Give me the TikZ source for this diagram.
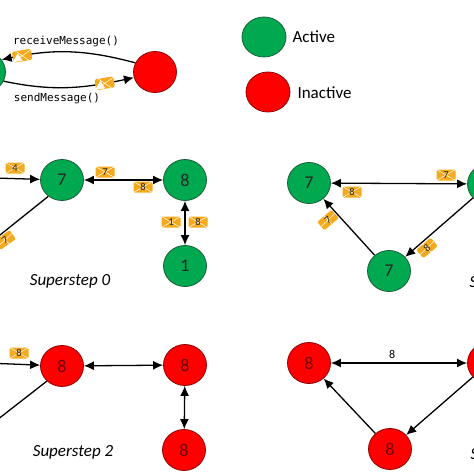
\documentclass[tikz,border=0pt]{standalone}
\usepackage{fontspec}
\setmainfont{Carlito}
\setmonofont{DejaVu Sans Mono}
\usetikzlibrary{arrows.meta,shapes.geometric}

\definecolor{activegreen}{RGB}{0,168,80}
\definecolor{activeedge}{RGB}{25,95,55}
\definecolor{inactivered}{RGB}{255,0,0}
\definecolor{inactiveedge}{RGB}{140,0,0}
\definecolor{msgorange}{RGB}{245,170,30}

\begin{document}
\begin{tikzpicture}[x=1pt,y=1pt,
  active/.style={ellipse,draw=activeedge,fill=activegreen,line width=0.8pt,minimum width=43pt,minimum height=41pt,inner sep=0pt,text=black!85,font=\fontsize{18}{18}\selectfont},
  inactive/.style={ellipse,draw=inactiveedge,fill=inactivered,line width=0.8pt,minimum width=43pt,minimum height=41pt,inner sep=0pt,text=inactiveedge!80!black,font=\fontsize{18}{18}\selectfont},
  msg/.style={fill=msgorange,rounded corners=1.5pt,minimum width=19pt,minimum height=11pt,inner sep=0pt,text=black!85,font=\fontsize{10.5}{10.5}\selectfont,
    path picture={\draw[white,line width=0.5pt] (path picture bounding box.north west) -- (path picture bounding box.south east) (path picture bounding box.north east) -- (path picture bounding box.south west);}},
  link/.style={line width=1.3pt,>={Latex[length=10pt,width=9pt]}},
  stepname/.style={font=\fontsize{17}{17}\selectfont\itshape},
  legendtext/.style={anchor=west,font=\fontsize{17}{17}\selectfont},
  calltext/.style={font=\ttfamily\fontsize{11}{11}\selectfont}]

\useasboundingbox (0,0) rectangle (474,-474);

\begin{scope}

\clip (0,0) rectangle (474,-474);

\node[active] (g0) at (-16,-72) {};
\node[inactive] (r0) at (155,-72) {};

\draw[link,->] (r0.155) to[out=165,in=12] node[msg,pos=0.86,sloped] (m0a) {} (g0.35);
\draw[link,->] (g0.-25) to[out=-12,in=192] node[msg,pos=0.79,sloped] (m0b) {} (r0.195);

\node[calltext] (recv) at (66,-42) {receiveMessage()};
\node[calltext] (send) at (57,-99) {sendMessage()};

\node[active,minimum width=44pt,minimum height=40pt] (lga) at (264,-37) {};
\node[legendtext] (lgat) at (289,-37) {Active};
\node[inactive,minimum width=44pt,minimum height=40pt] (lgi) at (268,-92) {};
\node[legendtext] (lgit) at (294,-93) {Inactive};

\coordinate (s0in) at (-40,-177);
\coordinate (s0out) at (-30,-259);
\node[active] (s0a) at (62,-180) {7};
\node[active] (s0b) at (185,-180) {8};
\node[active] (s0c) at (185,-266) {1};

\draw[link,->] (s0in) -- (s0a);
\draw[link] (s0a.230) -- (s0out);
\draw[link,<->] (s0a) -- (s0b);
\draw[link,<->] (s0b) -- (s0c);

\node[msg] (s0m1) at (15,-168) {4};
\node[msg,rotate=35] (s0m2) at (5,-240) {7};
\node[msg] (s0m3) at (105,-172) {7};
\node[msg] (s0m4) at (143,-187) {8};
\node[msg] (s0m5) at (171,-222) {1};
\node[msg] (s0m6) at (198,-222) {8};
\node[stepname] (s0t) at (70,-281) {Superstep 0};

\node[active] (s1a) at (309,-183) {7};
\node[active] (s1b) at (489,-184) {};
\node[active] (s1c) at (389,-271) {7};

\draw[link,<->] (s1a) -- (s1b);
\draw[link,->] (s1c) -- (s1a);
\draw[link,->] (s1b) -- (s1c);

\node[msg] (s1m1) at (446,-175) {7};
\node[msg] (s1m2) at (352,-192) {8};
\node[msg,rotate=40] (s1m3) at (328,-220) {7};
\node[msg,rotate=40] (s1m4) at (427,-248) {8};
\node[stepname,anchor=west] (s1t) at (466,-283) {Superstep 1};

\coordinate (s2in) at (-40,-362);
\coordinate (s2out) at (-30,-441);
\node[inactive] (s2a) at (62,-366) {8};
\node[inactive] (s2b) at (185,-365) {8};
\node[inactive] (s2c) at (184,-450) {8};

\draw[link,->] (s2in) -- (s2a);
\draw[link] (s2a.225) -- (s2out);
\draw[link,<->] (s2a) -- (s2b);
\draw[link,<->] (s2b) -- (s2c);

\node[msg] (s2m1) at (19,-353) {8};
\node[stepname] (s2t) at (73,-452) {Superstep 2};

\node[inactive] (s3a) at (309,-363) {8};
\node[inactive] (s3b) at (489,-363) {};
\node[inactive] (s3c) at (390,-449) {8};

\draw[link,<->] (s3a) -- node[pos=0.45,above,font=\fontsize{12}{12}\selectfont] (s3l) {8} (s3b);
\draw[link,->] (s3c) -- (s3a);
\draw[link,->] (s3b) -- (s3c);

\node[stepname,anchor=west] (s3t) at (467,-455) {Superstep 3};

\end{scope}

\end{tikzpicture}
\end{document}
